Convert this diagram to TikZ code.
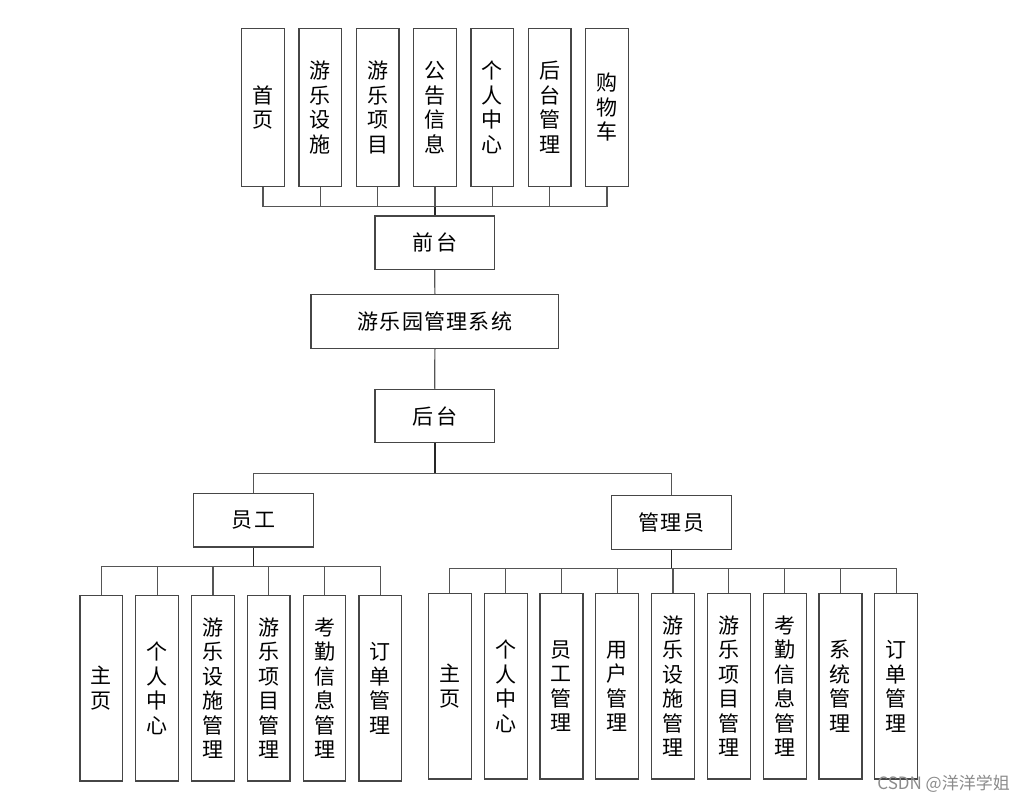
\documentclass[tikz,border=0pt]{standalone}
\usepackage{fontspec}
\setmainfont{Noto Sans CJK SC}
\definecolor{lc}{RGB}{85,85,85}
\definecolor{bc}{RGB}{70,70,70}
\newcommand{\gp}{\hspace{1.3pt}}
\begin{document}
\begin{tikzpicture}[x=1pt,y=-1pt,
  box/.style={draw=bc,line width=1.2pt,fill=white,inner sep=0pt,
    font=\fontsize{21}{24.5}\selectfont,align=center},
  hbox/.style={box,minimum height=53.3pt},
  topbox/.style={box,minimum width=42.7pt,minimum height=158.4pt},
  lbox/.style={box,minimum width=42.7pt,minimum height=185.3pt},
  rbox/.style={box,minimum width=43pt,minimum height=185.7pt},
  conn/.style={draw=lc,line width=1.2pt},
  stem/.style={draw=black!85,line width=1.6pt}]
\useasboundingbox (0,0) rectangle (1026,802);
\fill[white] (0,0) rectangle (1026,802);

% top row
\node[topbox] (t1) at (263.0,107.5) {首\\页};
\node[topbox] (t2) at (320.3,107.5) {游\\乐\\设\\施};
\node[topbox] (t3) at (377.6,107.5) {游\\乐\\项\\目};
\node[topbox] (t4) at (435.0,107.5) {公\\告\\信\\息};
\node[topbox] (t5) at (492.3,107.5) {个\\人\\中\\心};
\node[topbox] (t6) at (549.6,107.5) {后\\台\\管\\理};
\node[topbox] (t7) at (607.0,107.5) {购\\物\\车};

\node[hbox,minimum width=119.3pt] (front) at (434.7,242.7) {前\hspace{3pt}台};
\node[hbox,minimum width=247.7pt] (sys) at (434.9,321.5) {游\gp 乐\gp 园\gp 管\gp 理\gp 系\gp 统};
\node[hbox,minimum width=119.3pt] (back) at (434.7,416.0) {后\hspace{3pt}台};
\node[hbox,minimum width=119.6pt] (emp) at (253.5,520.3) {员\gp 工};
\node[hbox,minimum width=120pt] (adm) at (671.3,522.5) {管\gp 理\gp 员};

% employee children
\node[lbox] (e1) at (101.3,688.3) {主\\页};
\node[lbox] (e2) at (157.1,688.3) {个\\人\\中\\心};
\node[lbox] (e3) at (212.9,688.3) {游\\乐\\设\\施\\管\\理};
\node[lbox] (e4) at (268.7,688.3) {游\\乐\\项\\目\\管\\理};
\node[lbox] (e5) at (324.5,688.3) {考\\勤\\信\\息\\管\\理};
\node[lbox] (e6) at (380.3,688.3) {订\\单\\管\\理};

% admin children
\node[rbox] (a1) at (449.8,686.2) {主\\页};
\node[rbox] (a2) at (505.6,686.2) {个\\人\\中\\心};
\node[rbox] (a3) at (561.4,686.2) {员\\工\\管\\理};
\node[rbox] (a4) at (617.2,686.2) {用\\户\\管\\理};
\node[rbox] (a5) at (673.0,686.2) {游\\乐\\设\\施\\管\\理};
\node[rbox] (a6) at (728.8,686.2) {游\\乐\\项\\目\\管\\理};
\node[rbox] (a7) at (784.6,686.2) {考\\勤\\信\\息\\管\\理};
\node[rbox] (a8) at (840.4,686.2) {系\\统\\管\\理};
\node[rbox] (a9) at (896.2,686.2) {订\\单\\管\\理};

% buses
\coordinate (fbus) at (434.7,206.7);
\coordinate (bbus) at (434.7,473.5);
\coordinate (ebus) at (253.5,566.7);
\coordinate (abus) at (671.3,568.7);

\foreach \i in {1,...,7} \draw[conn] (t\i.south) |- (fbus);
\draw[stem] (fbus) -- (front.north);
\draw[conn] (front.south) -- (sys.north);
\draw[conn] (sys.south) -- (back.north);
\draw[stem] (back.south) -- (bbus);
\draw[conn] (emp.north) |- (bbus) -| (adm.north);
\draw[stem] (emp.south) -- (ebus);
\foreach \i in {1,...,6} \draw[conn] (e\i.north) |- (ebus);
\draw[stem] (adm.south) -- (abus);
\foreach \i in {1,...,9} \draw[conn] (a\i.north) |- (abus);

\node[anchor=east,text=black!45,font=\fontsize{17}{20}\selectfont,inner sep=0pt] (wm) at (1010,784) {CSDN @洋洋学姐};
\end{tikzpicture}
\end{document}
